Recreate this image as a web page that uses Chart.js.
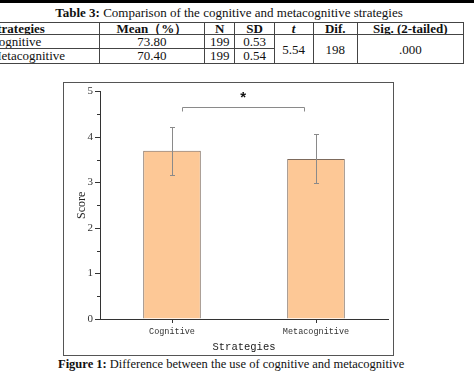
<!DOCTYPE html>
<html>
<head>
<meta charset="utf-8">
<script src="https://cdn.jsdelivr.net/npm/chart.js@4"></script>
<style>
body{margin:0;width:474px;height:372px;overflow:hidden;background:#fff;position:relative;font-family:"Liberation Serif",serif;color:#111;}
#topbar{position:absolute;left:0;top:0;width:474px;height:3px;background:#000;}
#tcap{position:absolute;left:0;top:5px;width:458px;text-align:center;font-size:13px;line-height:16px;white-space:nowrap;}
table{position:absolute;left:-10px;top:22px;border-collapse:collapse;table-layout:fixed;font-size:13px;}
td,th{border:1px solid #444;padding:0;text-align:center;white-space:nowrap;overflow:hidden;}
th{font-weight:bold;height:11px;line-height:11px;}
td.l,th.l{text-align:left;border-left:none;}
tr.r1 td{height:13px;line-height:13px;}
tr.r2 td{height:14px;line-height:14px;}
#frame{position:absolute;left:63px;top:82px;width:331px;height:274px;box-sizing:border-box;border:1px solid #555;}
#wrap{position:absolute;left:64px;top:83px;width:329px;height:272px;}
#fcap{position:absolute;left:58px;top:357px;font-size:12.5px;line-height:15px;white-space:nowrap;}
</style>
</head>
<body>
<div id="topbar"></div>
<div id="tcap"><b>Table 3:</b> Comparison of the cognitive and metacognitive strategies</div>
<table>
  <colgroup>
    <col style="width:111px"><col style="width:107px"><col style="width:31px"><col style="width:40px">
    <col style="width:40px"><col style="width:45px"><col style="width:108px">
  </colgroup>
  <tr><th class="l">Strategies</th><th>Mean（%）</th><th>N</th><th>SD</th><th><i>t</i></th><th>Dif.</th><th>Sig. (2-tailed)</th></tr>
  <tr class="r1"><td class="l">Cognitive</td><td>73.80</td><td>199</td><td>0.53</td><td rowspan="2">5.54</td><td rowspan="2">198</td><td rowspan="2">.000</td></tr>
  <tr class="r2"><td class="l">Metacognitive</td><td>70.40</td><td>199</td><td>0.54</td></tr>
</table>
<div id="frame"></div>
<div id="wrap"><canvas id="chart" width="329" height="272"></canvas></div>
<div id="fcap"><b>Figure 1:</b> Difference between the use of cognitive and metacognitive</div>
<script>
const categories = ["Cognitive", "Metacognitive"];
const meanScores = [3.70, 3.52];
const sdScores = [0.53, 0.54];
const minorTicks = [0.5, 1.5, 2.5, 3.5, 4.5];
// significance bracket: category positions and score level
const sigFrom = 0.07, sigTo = 0.92, sigLevel = 4.67, sigDrop = 0.1, sigStarLevel = 4.92;

const axisColor = "#333";

const extras = {
  id: "extras",
  afterDatasetsDraw(chart) {
    const { ctx, scales: { x, y } } = chart;
    const meta = chart.getDatasetMeta(0);
    ctx.save();
    ctx.lineWidth = 1;
    // minor ticks on y
    ctx.strokeStyle = axisColor;
    minorTicks.forEach(v => {
      const py = Math.round(y.getPixelForValue(v)) + 0.5;
      ctx.beginPath(); ctx.moveTo(x.left - 3, py); ctx.lineTo(x.left, py); ctx.stroke();
    });
    // error bars
    ctx.strokeStyle = "#8a8a8a";
    meta.data.forEach((bar, i) => {
      const cx = Math.round(bar.x) + 0.5;
      const t = Math.round(y.getPixelForValue(meanScores[i] + sdScores[i])) + 0.5;
      const b = Math.round(y.getPixelForValue(meanScores[i] - sdScores[i])) + 0.5;
      ctx.beginPath();
      ctx.moveTo(cx, t); ctx.lineTo(cx, b);
      ctx.moveTo(cx - 2.5, t); ctx.lineTo(cx + 2.5, t);
      ctx.moveTo(cx - 2.5, b); ctx.lineTo(cx + 2.5, b);
      ctx.stroke();
    });
    // bracket
    const x1 = Math.round(x.getPixelForValue(sigFrom)) + 0.5;
    const x2 = Math.round(x.getPixelForValue(sigTo)) + 0.5;
    const yl = Math.round(y.getPixelForValue(sigLevel)) + 0.5;
    const yd = Math.round(y.getPixelForValue(sigLevel - sigDrop)) + 0.5;
    ctx.strokeStyle = "#8a8a8a";
    ctx.beginPath();
    ctx.moveTo(x1, yd); ctx.lineTo(x1, yl); ctx.lineTo(x2, yl); ctx.lineTo(x2, yd);
    ctx.stroke();
    ctx.fillStyle = "#111";
    ctx.font = "bold 15px 'Liberation Sans'";
    ctx.textAlign = "center";
    ctx.textBaseline = "middle";
    ctx.fillText("*", x.getPixelForValue((sigFrom + sigTo) / 2), y.getPixelForValue(sigStarLevel) + 3);
    ctx.restore();
  }
};

new Chart(document.getElementById("chart"), {
  type: "bar",
  data: {
    labels: categories,
    datasets: [{
      data: meanScores,
      backgroundColor: "#fdc896",
      borderColor: "#7d6a5c",
      borderWidth: 1,
      borderSkipped: "bottom",
      barPercentage: 0.4,
      categoryPercentage: 1
    }]
  },
  options: {
    responsive: false,
    animation: false,
    devicePixelRatio: 1,
    layout: { padding: { top: 6, right: 5, bottom: 0, left: 0 } },
    plugins: { legend: { display: false }, tooltip: { enabled: false } },
    scales: {
      x: {
        offset: true,
        grid: { display: true, offset: false, drawOnChartArea: false, drawTicks: true, tickLength: 4, color: axisColor },
        border: { color: axisColor, width: 1 },
        ticks: { color: "#333", padding: 4, font: { family: "Liberation Mono", size: 8.5 } },
        title: { display: true, text: "Strategies", color: "#222", padding: { top: 0, bottom: 1 }, font: { family: "Liberation Mono", size: 10.5 } },
        afterFit(s) { s.height = 36; }
      },
      y: {
        min: 0, max: 5,
        grid: { display: true, drawOnChartArea: false, drawTicks: true, tickLength: 5, color: axisColor },
        border: { color: axisColor, width: 1 },
        ticks: { stepSize: 1, color: "#333", padding: 2, font: { family: "Liberation Serif", size: 11 } },
        title: { display: true, text: "Score", color: "#222", padding: { top: 11, bottom: 0 }, font: { family: "Liberation Serif", size: 12 } },
        afterFit(s) { s.width = 36; }
      }
    }
  },
  plugins: [extras]
});
</script>
</body>
</html>
